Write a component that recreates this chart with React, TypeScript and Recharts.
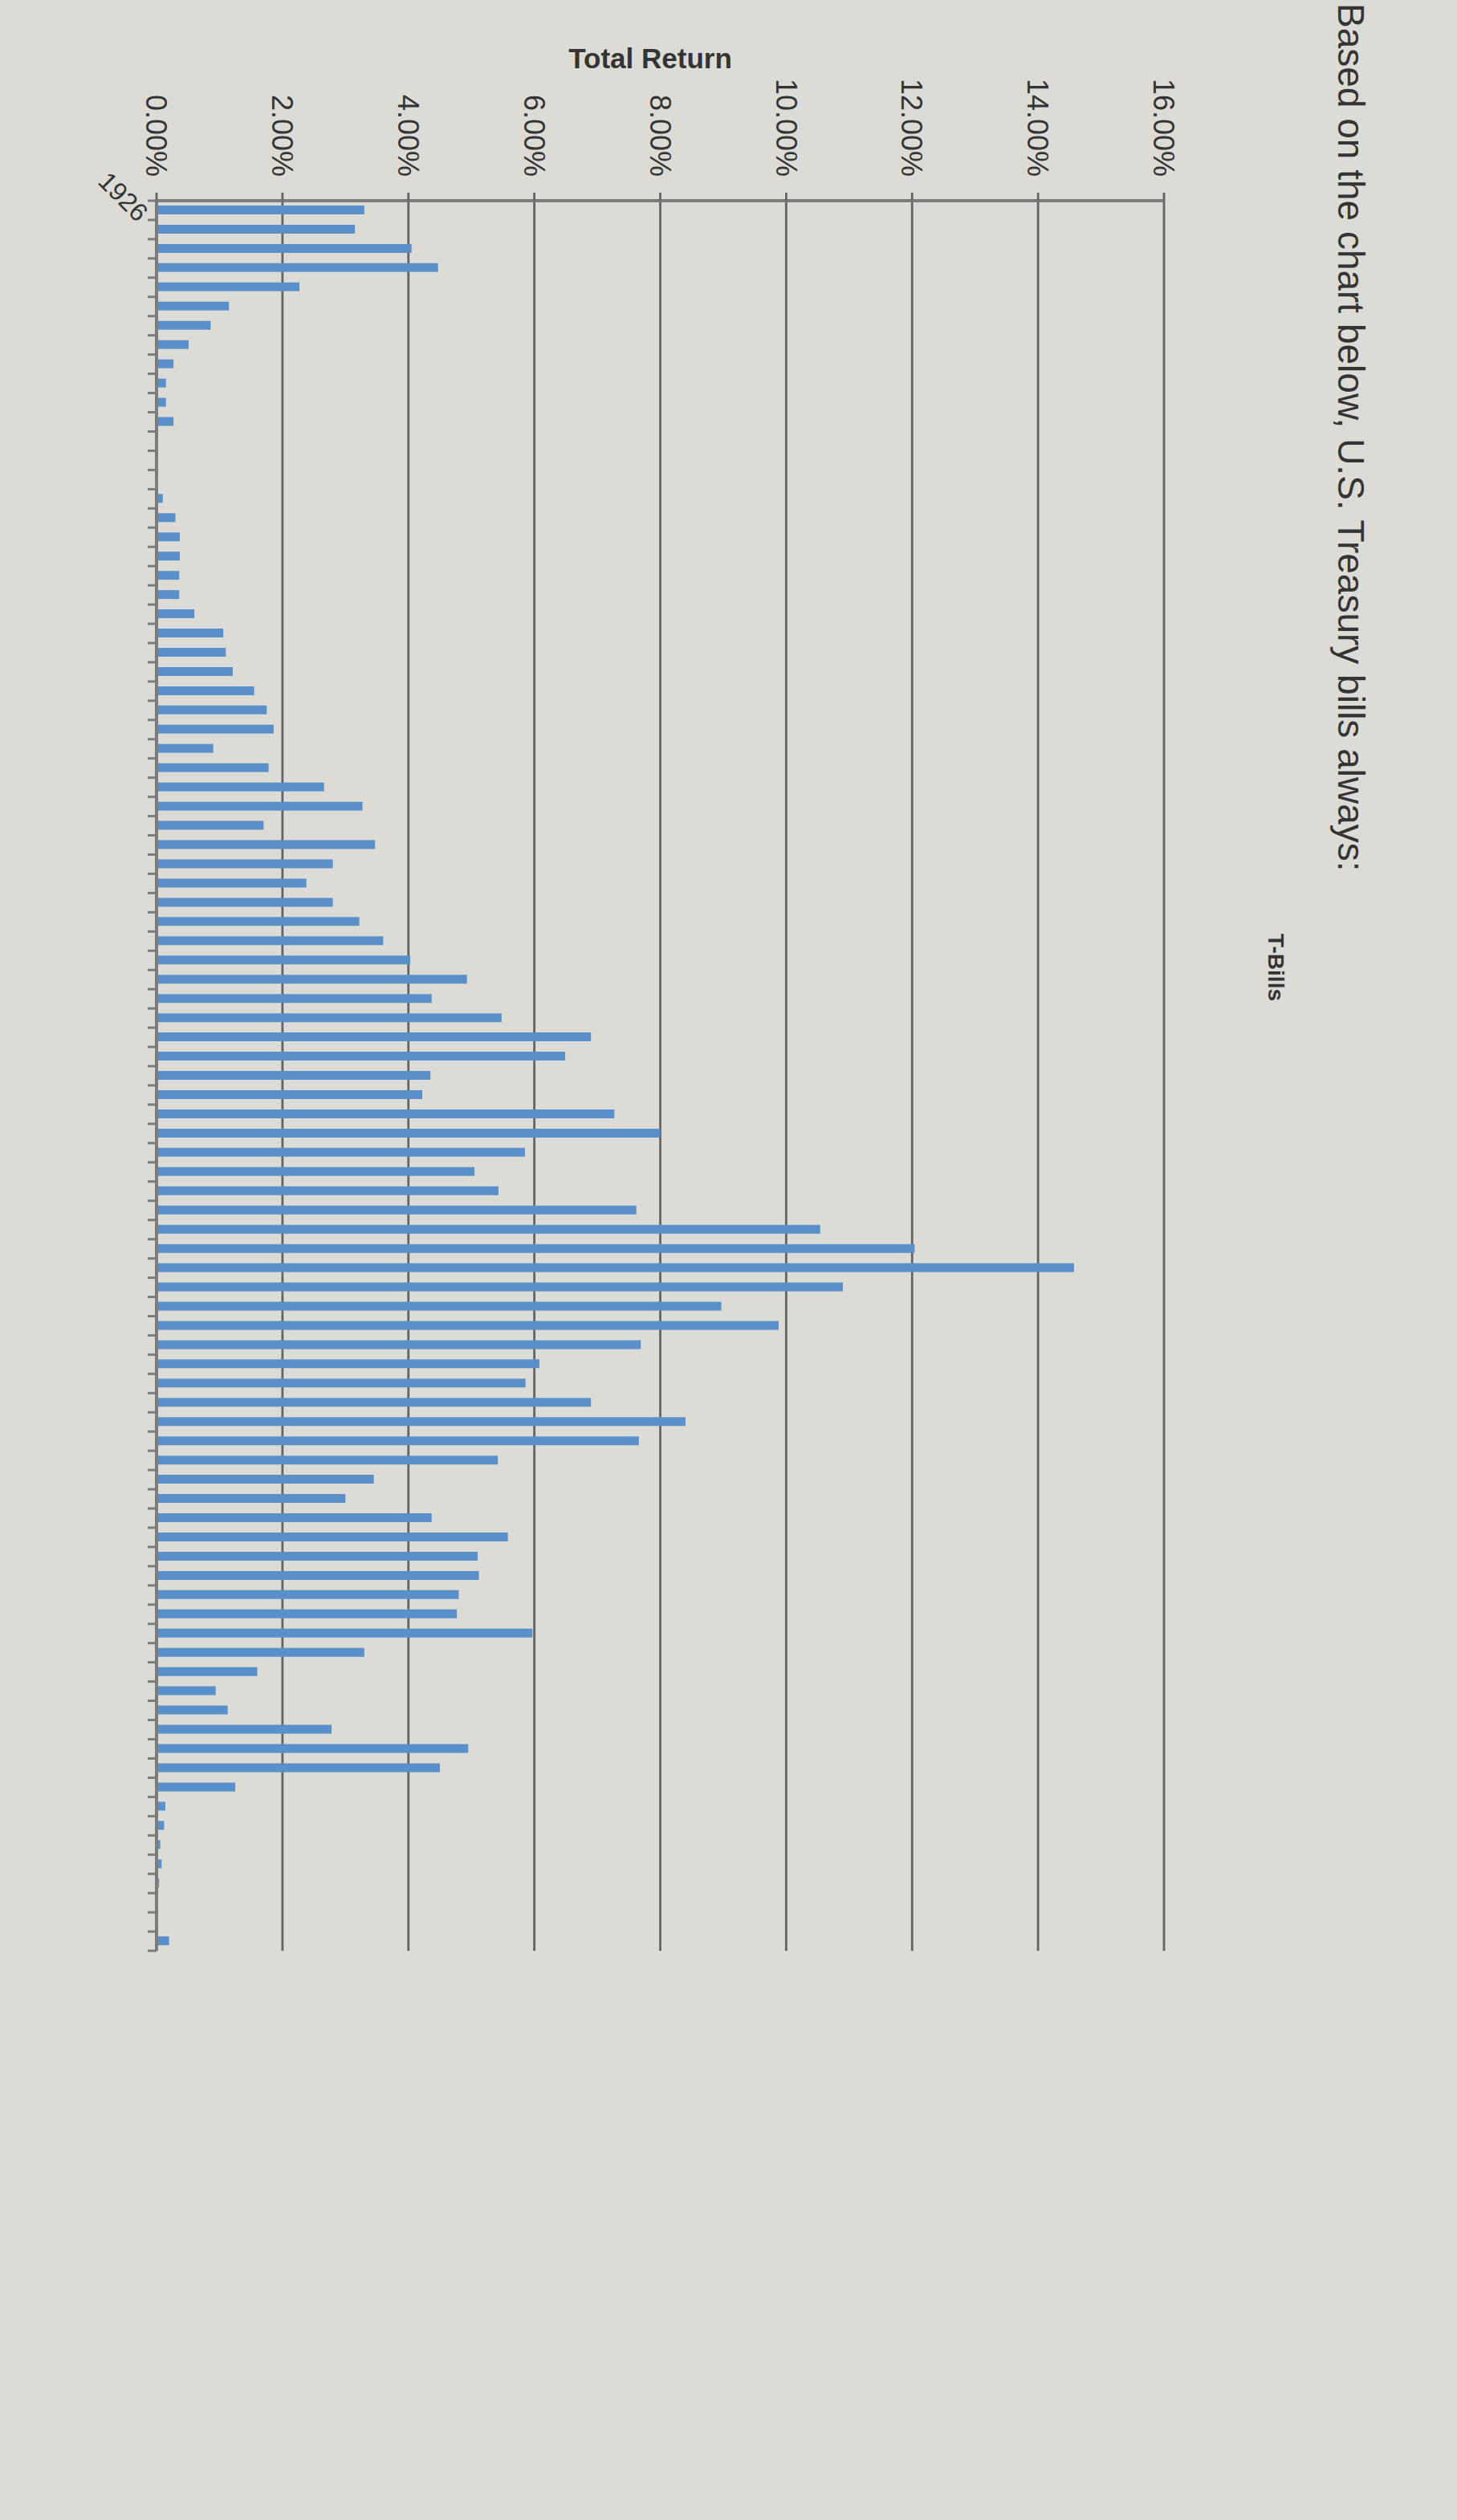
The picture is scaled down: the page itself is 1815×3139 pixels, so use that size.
import { BarChart, Bar, XAxis, YAxis, CartesianGrid } from 'recharts'

const YEARS = [
  '1926', '1927', '1928', '1929', '1930', '1931', '1932', '1933', '1934', '1935',
  '1936', '1937', '1938', '1939', '1940', '1941', '1942', '1943', '1944', '1945',
  '1946', '1947', '1948', '1949', '1950', '1951', '1952', '1953', '1954', '1955',
  '1956', '1957', '1958', '1959', '1960', '1961', '1962', '1963', '1964', '1965',
  '1966', '1967', '1968', '1969', '1970', '1971', '1972', '1973', '1974', '1975',
  '1976', '1977', '1978', '1979', '1980', '1981', '1982', '1983', '1984', '1985',
  '1986', '1987', '1988', '1989', '1990', '1991', '1992', '1993', '1994', '1995',
  '1996', '1997', '1998', '1999', '2000', '2001', '2002', '2003', '2004', '2005',
  '2006', '2007', '2008', '2009', '2010', '2011', '2012', '2013', '2014', '2015',
  '2016',
]

// total return, percent
const T_BILLS = [
  3.3, 3.15, 4.05, 4.47, 2.27, 1.15, 0.86, 0.51, 0.27, 0.15,
  0.15, 0.27, 0.02, 0.02, 0.0, 0.1, 0.3, 0.37, 0.37, 0.36,
  0.36, 0.6, 1.06, 1.1, 1.21, 1.55, 1.75, 1.86, 0.9, 1.78,
  2.66, 3.27, 1.7, 3.47, 2.8, 2.38, 2.8, 3.22, 3.6, 4.03,
  4.93, 4.37, 5.48, 6.9, 6.49, 4.35, 4.22, 7.27, 8.0, 5.85,
  5.05, 5.43, 7.62, 10.54, 12.04, 14.57, 10.9, 8.97, 9.88, 7.69,
  6.08, 5.86, 6.9, 8.4, 7.66, 5.42, 3.45, 3.0, 4.37, 5.58,
  5.1, 5.12, 4.8, 4.77, 5.97, 3.3, 1.6, 0.94, 1.13, 2.78,
  4.95, 4.5, 1.25, 0.14, 0.12, 0.06, 0.08, 0.04, 0.02, 0.02,
  0.2,
]

const RETURN_TICKS = [0, 2, 4, 6, 8, 10, 12, 14, 16]
const LABELED_YEARS = ['1926']

const QUESTION = 'Based on the chart below, U.S. Treasury bills always:'
const CHART_TITLE = 'T-Bills'
const AXIS_TITLE = 'Total Return'

// the photo shows the screen turned a quarter turn, so draw landscape and rotate it
const PAGE_W = 1815
const PAGE_H = 3139
const CHART_W = PAGE_H
const CHART_H = PAGE_W
const PLOT_LEFT = 250
const PLOT_RIGHT = 2430
const BAND = (PLOT_RIGHT - PLOT_LEFT) / YEARS.length

const FONT = "'Liberation Sans', Arial, Helvetica, sans-serif"
const GRID = '#646467'
const AXIS = '#7c7c7e'
const TEXT = '#343434'
const BAR = '#5a90ca'

const data = YEARS.map((year, i) => ({ year, tbills: T_BILLS[i] }))

function formatPct(v: number) {
  return `${v.toFixed(2)}%`
}

// year ticks sit between the bars, only the first year gets a label
function YearTick({ x, y, payload, index }: any) {
  const half = BAND / 2
  const isLast = index === YEARS.length - 1
  const ty = y + 8
  return (
    <g>
      <line x1={x - half} y1={y} x2={x - half} y2={y + 11} stroke={AXIS} strokeWidth={3} />
      {isLast && <line x1={x + half} y1={y} x2={x + half} y2={y + 11} stroke={AXIS} strokeWidth={3} />}
      {LABELED_YEARS.includes(payload.value) && (
        <text
          x={x}
          y={ty}
          dy="0.71em"
          textAnchor="end"
          transform={`rotate(-45, ${x}, ${ty})`}
          fontSize={32}
          fontFamily={FONT}
          fill={TEXT}
        >
          {payload.value}
        </text>
      )}
    </g>
  )
}

export default function App() {
  return (
    <div
      style={{
        position: 'absolute',
        left: 0,
        top: 0,
        width: PAGE_W,
        height: PAGE_H,
        background: '#dcdbd5',
        overflow: 'hidden',
      }}
    >
      <div
        style={{
          position: 'absolute',
          left: 0,
          top: 0,
          width: CHART_W,
          height: CHART_H,
          transformOrigin: '0 0',
          transform: `translateX(${PAGE_W}px) rotate(90deg)`,
          fontFamily: FONT,
        }}
      >
        <BarChart
          width={CHART_W}
          height={CHART_H}
          data={data}
          margin={{ top: 365, right: CHART_W - PLOT_RIGHT, bottom: 135, left: 50 }}
        >
          <CartesianGrid horizontal vertical={false} stroke={GRID} strokeWidth={2.8} />
          <XAxis
            dataKey="year"
            height={60}
            interval={0}
            tick={<YearTick />}
            tickLine={false}
            tickSize={0}
            tickMargin={0}
            axisLine={{ stroke: AXIS, strokeWidth: 4 }}
          />
          <YAxis
            width={200}
            domain={[0, 16]}
            ticks={RETURN_TICKS}
            tickFormatter={formatPct}
            tick={{ fontSize: 36, fill: TEXT, fontFamily: FONT }}
            tickSize={10}
            tickMargin={20}
            tickLine={{ stroke: GRID, strokeWidth: 2.8 }}
            axisLine={{ stroke: AXIS, strokeWidth: 4 }}
          />
          <Bar dataKey="tbills" fill={BAR} barSize={11} isAnimationActive={false} />
        </BarChart>
        <svg
          width={CHART_W}
          height={CHART_H}
          style={{ position: 'absolute', left: 0, top: 0, pointerEvents: 'none' }}
        >
          <text x={4} y={148} fontSize={46} fontFamily={FONT} fill={TEXT}>
            {QUESTION}
          </text>
          <text x={1205} y={235} textAnchor="middle" fontSize={28} fontWeight="bold" fontFamily={FONT} fill={TEXT}>
            {CHART_TITLE}
          </text>
          <text
            x={85}
            y={1005}
            textAnchor="middle"
            transform="rotate(-90, 85, 1005)"
            fontSize={35}
            fontWeight="bold"
            fontFamily={FONT}
            fill={TEXT}
          >
            {AXIS_TITLE}
          </text>
        </svg>
      </div>
    </div>
  )
}
